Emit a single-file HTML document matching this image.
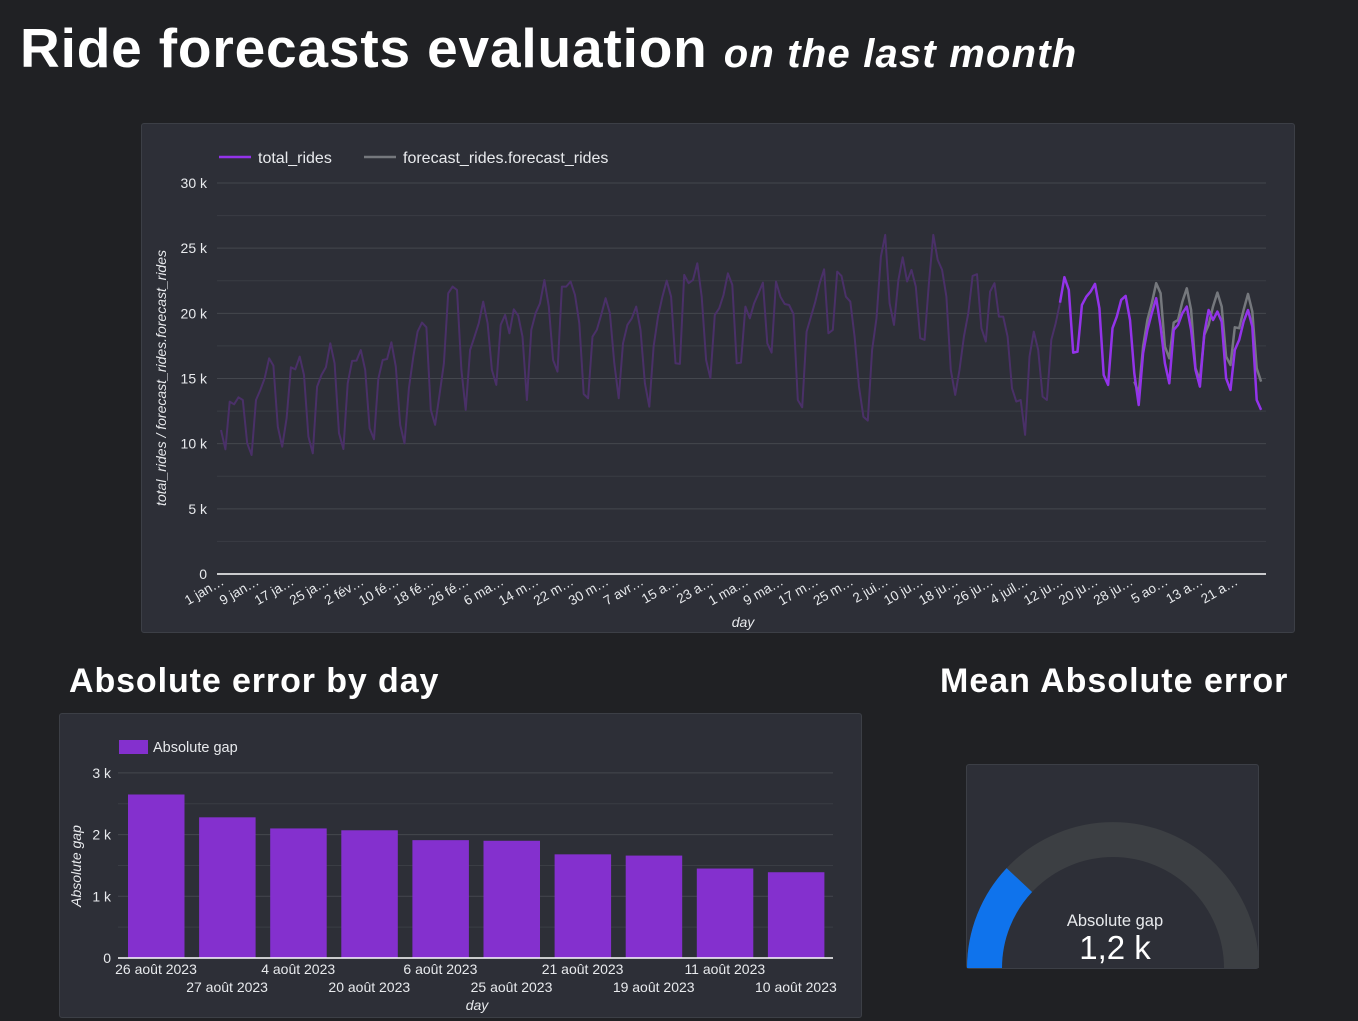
<!DOCTYPE html>
<html><head><meta charset="utf-8"><style>
body{margin:0;width:1358px;height:1021px;background:#202124;font-family:"Liberation Sans",sans-serif;overflow:hidden;position:relative;color:#fff}
.card{position:absolute;background:#2d2f37;border:1px solid #3c3f46;border-radius:3px}
h1{position:absolute;margin:0;font-weight:bold;white-space:nowrap}
svg text{font-family:"Liberation Sans",sans-serif}
</style></head><body>
<h1 style="left:20px;top:16px;font-size:55px;letter-spacing:0.85px">Ride forecasts evaluation <i style="font-size:40px;letter-spacing:1.2px">on the last month</i></h1>
<div class="card" style="left:141px;top:123px;width:1152px;height:508px"></div>
<h1 style="left:69px;top:662px;font-size:34px;letter-spacing:0.9px">Absolute error by day</h1>
<h1 style="left:940px;top:662px;font-size:34px;letter-spacing:1px">Mean Absolute error</h1>
<div class="card" style="left:59px;top:713px;width:801px;height:303px"></div>
<div class="card" style="left:966px;top:764px;width:291px;height:203px"></div>
<svg id="svg" width="1358" height="1021" style="position:absolute;left:0;top:0"></svg>
<script>
const totalRides=[11.05,9.57,13.23,13.02,13.56,13.35,10.03,9.13,13.35,14.12,15.02,16.55,15.99,11.31,9.77,11.95,15.86,15.71,16.68,15.27,10.54,9.26,14.38,15.27,15.86,17.70,16.17,10.80,9.59,14.63,16.35,16.37,17.19,15.66,11.18,10.34,14.97,16.42,16.50,17.78,15.91,11.44,10.03,14.25,16.68,18.60,19.29,18.93,12.59,11.44,13.74,16.17,21.54,22.05,21.80,15.66,12.59,17.19,18.21,19.24,20.90,19.24,15.66,14.51,19.11,19.88,18.47,20.31,19.83,18.21,13.35,18.73,20.01,20.77,22.56,20.52,16.42,15.53,
22.05,22.05,22.44,21.41,19.24,13.81,13.48,18.21,18.73,19.88,21.16,20.01,16.17,13.48,17.70,19.11,19.62,20.52,18.73,14.63,12.84,17.45,19.75,21.28,22.51,21.28,16.17,16.12,22.95,22.31,22.56,23.84,21.28,16.42,15.02,19.88,20.39,21.41,23.07,22.18,16.17,16.22,20.52,19.62,20.77,21.54,22.36,17.70,16.99,22.44,21.28,20.72,20.64,19.95,13.35,12.79,18.60,19.75,20.90,22.31,23.38,18.47,18.73,23.20,22.87,21.28,20.90,18.21,14.38,12.07,11.77,17.19,19.62,24.35,26.02,20.77,19.11,22.56,24.30,22.44,23.33,22.05,18.09,17.96,22.31,26.02,24.10,23.33,21.28,15.66,13.74,15.66,
18.21,20.01,22.87,23.0,18.86,17.83,21.67,22.31,19.75,19.75,18.21,14.25,13.23,13.35,10.67,16.68,18.60,17.19,13.61,13.35,17.96,19.24,20.82,22.77,21.80,16.99,17.06,20.64,21.28,21.67,22.26,20.39,15.27,14.51,18.86,19.75,21.03,21.34,19.49,15.40,12.97,16.94,18.73,20.01,21.16,18.98,16.17,14.63,18.73,19.11,20.01,20.52,18.73,15.66,14.38,18.47,20.26,19.49,20.13,19.37,15.02,14.12,17.19,17.96,19.37,20.26,18.98,13.35,12.59];
const forecastStart=209;
const forecastRides=[14.76,13.87,17.45,19.49,20.77,22.31,21.54,17.45,16.55,19.29,19.49,20.90,21.92,20.26,15.78,14.89,18.34,19.11,20.52,21.59,20.52,16.68,16.04,18.93,18.86,20.26,21.49,20.13,15.78,14.76];
const highlightStart=192;
const yTicks=[0,5,10,15,20,25,30];
const yTickLabels=["0","5 k","10 k","15 k","20 k","25 k","30 k"];
const xLabels=["1 jan…","9 jan…","17 ja…","25 ja…","2 fév…","10 fé…","18 fé…","26 fé…","6 ma…","14 m…","22 m…","30 m…","7 avr…","15 a…","23 a…","1 ma…","9 ma…","17 m…","25 m…","2 jui…","10 ju…","18 ju…","26 ju…","4 juil…","12 ju…","20 ju…","28 ju…","5 ao…","13 a…","21 a…"];
const barCats=["26 août 2023","27 août 2023","4 août 2023","20 août 2023","6 août 2023","25 août 2023","21 août 2023","19 août 2023","11 août 2023","10 août 2023"];
const barVals=[2.65,2.28,2.10,2.07,1.91,1.90,1.68,1.66,1.45,1.39];
const barTicks=[0,1,2,3];
const barTickLabels=["0","1 k","2 k","3 k"];
const gaugeValue=1.2;
const gaugeMax=5;

const NS="http://www.w3.org/2000/svg";
const svg=document.getElementById('svg');
function mk(tag,attrs,parent){const e=document.createElementNS(NS,tag);for(const k in attrs)e.setAttribute(k,attrs[k]);(parent||svg).appendChild(e);return e;}
const lx=d=>221+d*4.37;
const ly=v=>574-v*13.033;
const lg=mk('g',{});


for(let i=0;i<yTicks.length;i++){
  const y=ly(yTicks[i]);
  if(i>0){const l=mk('line',{x1:217,x2:1266,y1:y,y2:y,stroke:'#44474e','stroke-width':1},lg);}
  if(i>0){const m=mk('line',{x1:217,x2:1266,y1:ly(yTicks[i]-2.5),y2:ly(yTicks[i]-2.5),stroke:'#3a3d44','stroke-width':1},lg);}
  const t=mk('text',{x:207,y:y+5,'text-anchor':'end','font-size':14,fill:'#e8eaed'},lg);t.textContent=yTickLabels[i];
  
}
const ax=mk('line',{x1:217,x2:1266,y1:574,y2:574,stroke:'#fff','stroke-width':1.5},lg);

xLabels.forEach((s,i)=>{const x=lx(i*8)+4,y=584;const t=mk('text',{x:x,y:y,'text-anchor':'end','font-size':13.5,fill:'#e8eaed',transform:`rotate(-30 ${x} ${y})`},lg);t.textContent=s;});
let t=mk('text',{x:743,y:627,'text-anchor':'middle','font-size':14,'font-style':'italic',fill:'#e8eaed'},lg);t.textContent='day';

t=mk('text',{x:166,y:378,'text-anchor':'middle','font-size':14,'font-style':'italic',fill:'#e8eaed',transform:'rotate(-90 166 378)'},lg);t.textContent='total_rides  /  forecast_rides.forecast_rides';

function pts(arr,off,from,to){return arr.slice(from,to).map((v,i)=>lx(i+from+off).toFixed(1)+','+ly(v).toFixed(1)).join(' ');}
let p=mk('polyline',{points:pts(totalRides,0,0,highlightStart+1),fill:'none',stroke:'#4a3068','stroke-width':2,'stroke-linejoin':'round'},lg);

p=mk('polyline',{points:forecastRides.map((v,i)=>lx(forecastStart+i).toFixed(1)+','+ly(v).toFixed(1)).join(' '),fill:'none',stroke:'#75787d','stroke-width':2.5,'stroke-linejoin':'round'},lg);

p=mk('polyline',{points:pts(totalRides,0,highlightStart,totalRides.length),fill:'none',stroke:'#9333ea','stroke-width':2.5,'stroke-linejoin':'round'},lg);

let l=mk('line',{x1:219,x2:251,y1:157,y2:157,stroke:'#9333ea','stroke-width':2.5},lg);
t=mk('text',{x:258,y:163,'font-size':16,fill:'#e8eaed'},lg);t.textContent='total_rides';
l=mk('line',{x1:364,x2:396,y1:157,y2:157,stroke:'#75787d','stroke-width':2.5},lg);
t=mk('text',{x:403,y:163,'font-size':16,fill:'#e8eaed'},lg);t.textContent='forecast_rides.forecast_rides';

const by=v=>958-v*61.7;
const bx=i=>128+i*71.1;
const bg=mk('g',{});


barTicks.forEach((v,i)=>{const y=by(v);
  if(i>0){const g=mk('line',{x1:118,x2:833,y1:y,y2:y,stroke:'#44474e'},bg);
    const m=mk('line',{x1:118,x2:833,y1:by(v-0.5),y2:by(v-0.5),stroke:'#3a3d44'},bg);}
  const tt=mk('text',{x:111,y:y+5,'text-anchor':'end','font-size':14,fill:'#e8eaed'},bg);tt.textContent=barTickLabels[i];
  });
barVals.forEach((v,i)=>{const r=mk('rect',{x:bx(i),y:by(v),width:56.5,height:958-by(v),fill:'#8430ce'},bg);
  
  const tt=mk('text',{x:bx(i)+28,y:i%2?992:974,'text-anchor':'middle','font-size':14,fill:'#e8eaed'},bg);tt.textContent=barCats[i];
  });
l=mk('line',{x1:118,x2:833,y1:958,y2:958,stroke:'#fff','stroke-width':1.5},bg);
t=mk('text',{x:477,y:1010,'text-anchor':'middle','font-size':14,'font-style':'italic',fill:'#e8eaed'},bg);t.textContent='day';
t=mk('text',{x:81,y:866,'text-anchor':'middle','font-size':14,'font-style':'italic',fill:'#e8eaed',transform:'rotate(-90 81 866)'},bg);t.textContent='Absolute gap';
let r=mk('rect',{x:119,y:740,width:29,height:14,fill:'#8430ce'},bg);
t=mk('text',{x:153,y:752,'font-size':14.5,fill:'#e8eaed'},bg);t.textContent='Absolute gap';

const gcx=1113,gcy=968,R1=146,R0=111;
function arc(f0,f1,fill,name){const a0=Math.PI*(1-f0),a1=Math.PI*(1-f1);
  const P=(r,a)=>(gcx+r*Math.cos(a)).toFixed(1)+' '+(gcy-r*Math.sin(a)).toFixed(1);
  const d=`M${P(R1,a0)} A${R1} ${R1} 0 0 1 ${P(R1,a1)} L${P(R0,a1)} A${R0} ${R0} 0 0 0 ${P(R0,a0)} Z`;
  const e=mk('path',{d:d,fill:fill});return e;}
arc(0,1,'#3c3f43','gauge-track');
arc(0,gaugeValue/gaugeMax,'#0f73ec','gauge-fill');
t=mk('text',{x:1115,y:926,'text-anchor':'middle','font-size':16.5,fill:'#e8eaed'});t.textContent='Absolute gap';
t=mk('text',{x:1115,y:959,'text-anchor':'middle','font-size':33,fill:'#fff'});t.textContent=String(gaugeValue).replace('.',',')+' k';
</script>
</body></html>
